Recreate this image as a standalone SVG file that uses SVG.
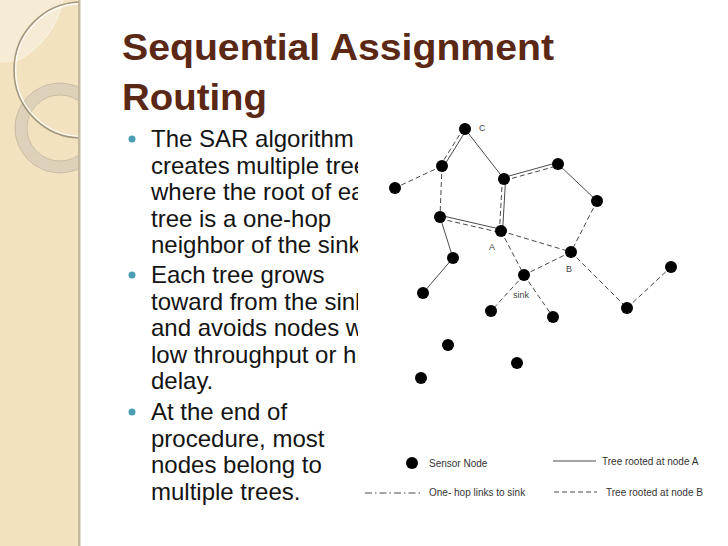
<svg xmlns="http://www.w3.org/2000/svg" width="728" height="546" viewBox="0 0 728 546">
<style>
.title{font-family:"Liberation Sans",Arial,sans-serif;font-weight:bold;font-size:37px;fill:#5A2815}
.body{font-family:"Liberation Sans",Arial,sans-serif;font-size:24px;fill:#141414}
.bul{fill:#4A9DB3}
.node{fill:#000}
.lbl{font-family:"Liberation Sans",Arial,sans-serif;font-size:9px;fill:#444}
.leg{font-family:"Liberation Sans",Arial,sans-serif;font-size:10px;fill:#333}
.solid{stroke:#4a4a4a;stroke-width:1;fill:none}
.dash{stroke:#4a4a4a;stroke-width:1;fill:none;stroke-dasharray:5,3}
.dashdot{stroke:#4a4a4a;stroke-width:1;fill:none;stroke-dasharray:7,3,1.5,3}
</style>
<defs>
<clipPath id="panel"><rect x="0" y="0" width="79" height="546"/></clipPath>
<clipPath id="textclip"><rect x="0" y="0" width="358" height="546"/></clipPath>
</defs>
<rect width="728" height="546" fill="#fff"/>
<g id="sidepanel">
<rect x="0" y="0" width="79" height="546" fill="#F2E2BF"/>
<g clip-path="url(#panel)">
<path d="M0,0 H63 A88,88 0 0 1 15,62 L0,63 Z" fill="#F6EBD4"/>
<path d="M63,0 A88,88 0 0 1 15,62" fill="none" stroke="#FBF5E8" stroke-width="1"/>
<path d="M60,83 A45,45 0 1 0 60.01,83 Z M60,95 A33,33 0 1 1 59.99,95 Z" fill="#D9CEB7" fill-rule="evenodd" opacity="0.85"/>
<circle cx="60" cy="128" r="45" fill="none" stroke="#C4B89E" stroke-width="0.8"/>
<circle cx="60" cy="128" r="33" fill="none" stroke="#C4B89E" stroke-width="0.8"/>
<circle cx="82" cy="70" r="68" fill="none" stroke="#A3977D" stroke-width="1.6"/>
<circle cx="82" cy="70" r="66.3" fill="none" stroke="#FFFFFF" stroke-width="1.3" opacity="0.85"/>
</g>
<rect x="78" y="0" width="2" height="546" fill="#C4B89E"/>
<rect x="80" y="0" width="1" height="546" fill="#E4DED0"/>
</g>
<g id="title">
<text class="title" x="122" y="60" textLength="432" lengthAdjust="spacingAndGlyphs">Sequential Assignment</text>
<text class="title" x="122" y="110" textLength="145" lengthAdjust="spacingAndGlyphs">Routing</text>
</g>
<g id="bullets" clip-path="url(#textclip)">
<circle class="bul" cx="132" cy="139" r="3.5"/>
<circle class="bul" cx="132" cy="275" r="3.5"/>
<circle class="bul" cx="132" cy="412" r="3.5"/>
<text class="body" x="151" y="147">The SAR algorithm</text>
<text class="body" x="151" y="173.5">creates multiple trees</text>
<text class="body" x="151" y="200">where the root of each</text>
<text class="body" x="151" y="226.5">tree is a one-hop</text>
<text class="body" x="151" y="253">neighbor of the sink.</text>
<text class="body" x="151" y="283">Each tree grows</text>
<text class="body" x="151" y="309.5">toward from the sink</text>
<text class="body" x="151" y="336">and avoids nodes with</text>
<text class="body" x="151" y="362.5">low throughput or high</text>
<text class="body" x="151" y="389">delay.</text>
<text class="body" x="151" y="420">At the end of</text>
<text class="body" x="151" y="446.5">procedure, most</text>
<text class="body" x="151" y="473">nodes belong to</text>
<text class="body" x="151" y="499.5">multiple trees.</text>
</g>
<g id="connectors">
<line class="solid" x1="466.4" y1="129.8" x2="443.4" y2="166.8"/>
<line class="dash" x1="463.6" y1="128.2" x2="440.6" y2="165.2"/>
<line class="solid" x1="465" y1="129" x2="504" y2="179"/>
<line class="dash" x1="442" y1="166" x2="395" y2="188"/>
<line class="dash" x1="442" y1="166" x2="440" y2="217"/>
<line class="solid" x1="503.6" y1="177.5" x2="557.6" y2="162.5"/>
<line class="dash" x1="504.4" y1="180.5" x2="558.4" y2="165.5"/>
<line class="solid" x1="558" y1="164" x2="597" y2="201"/>
<line class="dash" x1="597" y1="201" x2="571" y2="252"/>
<line class="solid" x1="505.6" y1="179" x2="502.6" y2="231"/>
<line class="dash" x1="502.4" y1="179" x2="499.4" y2="231"/>
<line class="solid" x1="440.4" y1="215.4" x2="501.4" y2="229.4"/>
<line class="dash" x1="439.6" y1="218.6" x2="500.6" y2="232.6"/>
<line class="solid" x1="440" y1="217" x2="453" y2="258"/>
<line class="solid" x1="453" y1="258" x2="423" y2="293"/>
<line class="dash" x1="501" y1="231" x2="571" y2="252"/>
<line class="dash" x1="501" y1="231" x2="524" y2="275"/>
<line class="dash" x1="571" y1="252" x2="524" y2="275"/>
<line class="dash" x1="524" y1="275" x2="491" y2="311"/>
<line class="dash" x1="524" y1="275" x2="553" y2="317"/>
<line class="dash" x1="571" y1="252" x2="627" y2="308"/>
<line class="dash" x1="627" y1="308" x2="671" y2="267"/>
</g>
<g id="node-C"><circle class="node" cx="465" cy="129" r="6"/><text class="lbl" x="479" y="131">C</text></g>
<g id="node-n1"><circle class="node" cx="442" cy="166" r="6"/></g>
<g id="node-n2"><circle class="node" cx="395" cy="188" r="6"/></g>
<g id="node-n3"><circle class="node" cx="504" cy="179" r="6"/></g>
<g id="node-n4"><circle class="node" cx="558" cy="164" r="6"/></g>
<g id="node-n5"><circle class="node" cx="597" cy="201" r="6"/></g>
<g id="node-n6"><circle class="node" cx="440" cy="217" r="6"/></g>
<g id="node-A"><circle class="node" cx="501" cy="231" r="6"/><text class="lbl" x="489" y="250">A</text></g>
<g id="node-n7"><circle class="node" cx="453" cy="258" r="6"/></g>
<g id="node-B"><circle class="node" cx="571" cy="252" r="6"/><text class="lbl" x="566" y="272">B</text></g>
<g id="node-n8"><circle class="node" cx="423" cy="293" r="6"/></g>
<g id="node-sink"><circle class="node" cx="524" cy="275" r="6"/><text class="lbl" x="513" y="298">sink</text></g>
<g id="node-n9"><circle class="node" cx="491" cy="311" r="6"/></g>
<g id="node-n10"><circle class="node" cx="553" cy="317" r="6"/></g>
<g id="node-n11"><circle class="node" cx="671" cy="267" r="6"/></g>
<g id="node-n12"><circle class="node" cx="627" cy="308" r="6"/></g>
<g id="node-n13"><circle class="node" cx="448" cy="345" r="6"/></g>
<g id="node-n14"><circle class="node" cx="517" cy="363" r="6"/></g>
<g id="node-n15"><circle class="node" cx="421" cy="378" r="6"/></g>
<g id="legend">
<circle class="node" cx="412" cy="463" r="6"/>
<text class="leg" x="429" y="467">Sensor Node</text>
<line class="solid" x1="553" y1="461" x2="596" y2="461"/>
<text class="leg" x="602" y="465">Tree rooted at node A</text>
<line class="dashdot" x1="365" y1="493" x2="420" y2="493"/>
<text class="leg" x="429" y="496">One- hop links to sink</text>
<line class="dash" x1="554" y1="492" x2="597" y2="492"/>
<text class="leg" x="606" y="496">Tree rooted at node B</text>
</g>
</svg>
